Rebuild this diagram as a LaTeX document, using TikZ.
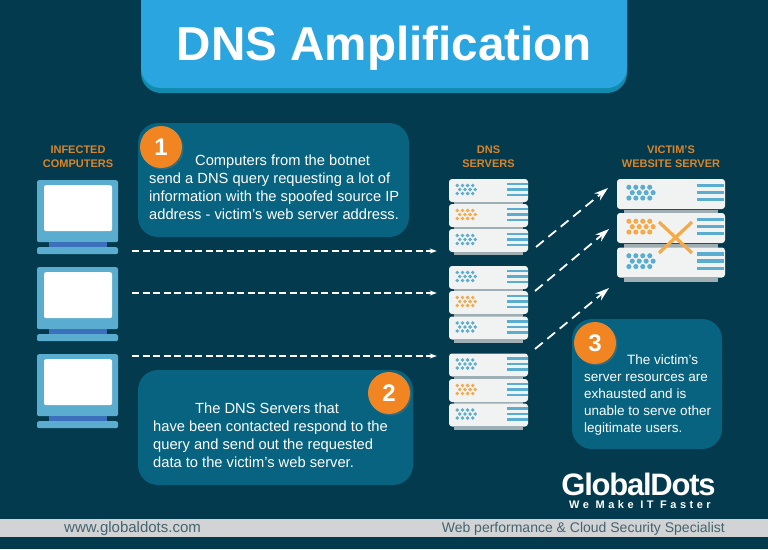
\documentclass[tikz,border=0pt]{standalone}
\usepackage{fontspec}
\setmainfont{Liberation Sans}
\newfontfamily\logofont[LetterSpace=-4]{Liberation Sans}
\newfontfamily\tagfont[LetterSpace=32]{Liberation Sans}
\usetikzlibrary{arrows.meta,shadows}

\definecolor{bgdark}{HTML}{033A4D}
\definecolor{titleblue}{HTML}{2AA5E0}
\definecolor{titleshade}{HTML}{118AAE}
\definecolor{boxteal}{HTML}{07637F}
\definecolor{numorange}{HTML}{F18522}
\definecolor{headorange}{HTML}{D9852C}
\definecolor{dotorange}{HTML}{F5A947}
\definecolor{lightblue}{HTML}{5AADCE}
\definecolor{standblue}{HTML}{3C70BC}
\definecolor{srvwhite}{HTML}{F1F2F2}
\definecolor{srvshade}{HTML}{9FAEB2}
\definecolor{footgrey}{HTML}{D1D3D4}
\definecolor{foottext}{HTML}{46646F}

\tikzset{
  heading/.style={text=headorange,font=\bfseries\fontsize{11}{14}\selectfont,align=center,inner sep=0pt},
  stepbox/.style={fill=boxteal,rounded corners=20pt,inner sep=0pt},
  stepnum/.style={circle,fill=numorange,text=white,minimum size=42pt,inner sep=0pt,
    font=\bfseries\fontsize{24}{24}\selectfont,drop shadow={shadow xshift=1.5pt,shadow yshift=-1.5pt,opacity=.35}},
  steptext/.style={text=white,font=\fontsize{14.7}{18}\selectfont,align=left,anchor=north west,inner sep=0pt},
  compbody/.style={fill=lightblue,rounded corners=2pt,minimum width=81pt,minimum height=62pt,inner sep=0pt,anchor=north},
  compscreen/.style={fill=white,rounded corners=2pt,minimum width=68pt,minimum height=46pt,inner sep=0pt,anchor=north},
  compstand/.style={fill=standblue,minimum width=58pt,minimum height=5pt,inner sep=0pt,anchor=north},
  compbase/.style={fill=lightblue,rounded corners=2pt,minimum width=81pt,minimum height=7pt,inner sep=0pt,anchor=north},
  dnsunit/.style={fill=srvwhite,rounded corners=3pt,minimum width=79pt,minimum height=23pt,inner sep=0pt},
  vicunit/.style={fill=srvwhite,rounded corners=3pt,minimum width=108pt,minimum height=30pt,inner sep=0pt},
  queryflow/.style={draw=white,line width=1.2pt,dash pattern=on 7pt off 3.5pt,-{Stealth[length=7pt,width=5pt]}},
  attackflow/.style={draw=white,line width=1.8pt,dash pattern=on 10pt off 6pt,-{Stealth[length=14pt,width=9pt]}},
  foot/.style={text=foottext,inner sep=0pt},
}

% dots, bars and lower edge of one server unit
\newcommand{\srvdetail}[3]{
  \begin{scope}[shift={(#1.center)},scale=#3]
    \fill[srvshade] (-34.5,11.5) rectangle (34.5,14.5);
    \foreach \r/\o in {-5/0,-1/2.5,3/0}{
      \foreach \k in {0,...,3}{
        \fill[#2] (-31.2+\k*5.15+\o,\r) circle (1.9);
      }
    }
    \foreach \r in {-6.3,-1,4.3}{
      \fill[lightblue] (18.9,\r-1.25) rectangle (39.5,\r+1.25);
    }
  \end{scope}
}

\begin{document}
\begin{tikzpicture}[x=1pt,y=-1pt]
\useasboundingbox (0,0) rectangle (768,549);
\fill[bgdark] (0,0) rectangle (768,549);

% Title panel
\fill[titleshade] (141,0) [rounded corners=20pt] -- (141,93) -- (627,93) [sharp corners] -- (627,0) -- cycle;
\fill[titleblue] (141,0) [rounded corners=20pt] -- (141,88) -- (627,88) [sharp corners] -- (627,0) -- cycle;
\node[text=white,font=\bfseries\fontsize{47.6}{50}\selectfont,inner sep=0pt,anchor=base] (title) at (384.5,60) {DNS Amplification};

% Footer
\fill[footgrey] (0,519) rectangle (768,537);
\node[foot,anchor=west,font=\fontsize{15}{16}\selectfont] (site) at (64,529) {www.globaldots.com};
\node[foot,anchor=east,font=\fontsize{14}{16}\selectfont] (slogan) at (725,529) {Web performance \& Cloud Security Specialist};

% Column headings
\node[heading] (headcomp) at (78,157) {INFECTED\\COMPUTERS};
\node[heading] (headdns) at (488.5,157) {DNS\\SERVERS};
\node[heading] (headvic) at (671,157) {VICTIM'S\\WEBSITE SERVER};

% Computers
\foreach \i/\y in {1/180,2/267,3/354}{
  \node[compbody] (comp\i) at (77.5,\y) {};
  \node[compscreen] (screen\i) at (78,\y+5) {};
  \node[compstand] (stand\i) at (77.5,\y+62) {};
  \node[compbase] (base\i) at (77.5,\y+67) {};
}

% DNS servers
\foreach \s/\ya/\yb/\yc in {1/190.5/215.5/240.5,2/277.5/302.5/328,3/365/390.5/415}{
  \node[dnsunit] (dns\s1) at (488.5,\ya) {};
  \srvdetail{dns\s1}{lightblue}{1}
  \node[dnsunit] (dns\s2) at (488.5,\yb) {};
  \srvdetail{dns\s2}{dotorange}{1}
  \node[dnsunit] (dns\s3) at (488.5,\yc) {};
  \srvdetail{dns\s3}{lightblue}{1}
}

% Victim's server
\node[vicunit] (vic1) at (671,194) {};
\srvdetail{vic1}{lightblue}{1.35}
\node[vicunit] (vic2) at (671,228) {};
\srvdetail{vic2}{dotorange}{1.35}
\node[vicunit] (vic3) at (671,262.5) {};
\srvdetail{vic3}{lightblue}{1.35}
\draw[dotorange,line width=3.2pt] (659,222) -- (692,253);
\draw[dotorange,line width=3.2pt] (692,222) -- (659,253);

% Free ends of the arrows
\coordinate (out1) at (132,251);
\coordinate (out2) at (132,293);
\coordinate (out3) at (132,356);
\coordinate (fwd1) at (536,247);
\coordinate (fwd2) at (535,291);
\coordinate (fwd3) at (535,349);
\coordinate (hit1) at (608,188);
\coordinate (hit2) at (609,229);
\coordinate (hit3) at (609,288);

% Arrows
\draw[queryflow,shorten >=12pt] (out1) -- (out1 -| dns13.west);
\draw[queryflow,shorten >=12pt] (out2) -- (out2 -| dns22.west);
\draw[queryflow,shorten >=12pt] (out3) -- (out3 -| dns31.west);
\foreach \i in {1,2,3}{
  \draw[attackflow] (fwd\i) -- (hit\i);
}

% Step boxes
\node[stepbox,minimum width=271pt,minimum height=114pt] (box1) at (273.5,180) {};
\node[stepbox,minimum width=275pt,minimum height=115pt] (box2) at (275.5,427.5) {};
\node[stepbox,minimum width=150pt,minimum height=130pt] (box3) at (647,384) {};

\node[stepnum] (num1) at (161,147) {1};
\node[stepnum] (num2) at (389,393) {2};
\node[stepnum] (num3) at (595,343) {3};

\node[steptext] (text1) at (149,155) {\hspace*{46pt}Computers from the botnet\\send a DNS query requesting a lot of\\information with the spoofed source IP\\address - victim's web server address.};
\node[steptext] (text2) at (153,403) {\hspace*{42pt}The DNS Servers that\\have been contacted respond to the\\query and send out the requested\\data to the victim's web server.};
\node[steptext,font=\fontsize{13.5}{17}\selectfont] (text3) at (584,355) {\hspace*{43pt}The victim's\\server resources are\\exhausted and is\\unable to serve other\\legitimate users.};

% Logo
\node[text=white,font=\logofont\bfseries\fontsize{31}{31}\selectfont,inner sep=0pt] (logo) at (638.5,484) {GlobalDots};
\node[text=white,font=\tagfont\bfseries\fontsize{11}{11}\selectfont,inner sep=0pt] (tagline) at (640,505) {We Make IT Faster};
\end{tikzpicture}
\end{document}
